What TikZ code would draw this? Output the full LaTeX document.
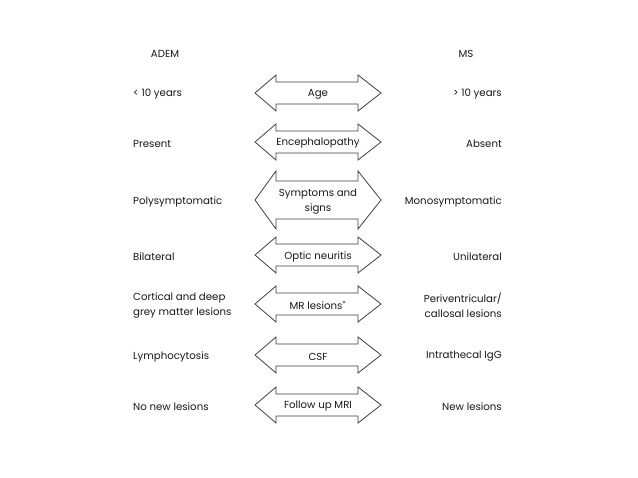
\documentclass[tikz,border=0pt]{standalone}
\usepackage{fontspec}
\setmainfont{Poppins}
\begin{document}
\begin{tikzpicture}[x=1pt,y=-1pt,
  lbl/.style={font=\fontsize{10.2}{15}\selectfont, inner sep=0pt, text=black!90, yshift=-1.5pt},
  lft/.style={lbl, anchor=west, align=left},
  rgt/.style={lbl, anchor=east, align=right},
  mid/.style={lbl, align=center},
  arr/.style={draw=black!75, line width=0.8pt, line join=miter}]
\useasboundingbox (0,0) rectangle (638,478);
\fill[white] (0,0) rectangle (638,478);
\newcommand{\dblarr}[3]{%
  \draw[arr] (255,#1) -- (276,#1-#2) -- (276,#1-#3) -- (358,#1-#3) -- (358,#1-#2)
    -- (381,#1) -- (358,#1+#2) -- (358,#1+#3) -- (276,#1+#3) -- (276,#1+#2) -- cycle;}
\node[lbl] (adem) at (165,52) {ADEM};
\node[lbl] (ms) at (466,52) {MS};
% rows
\dblarr{93}{18}{11}
\node[mid] (age) at (318,93) {Age};
\node[lft] (a1) at (133,93) {< 10 years};
\node[rgt] (b1) at (502,93) {> 10 years};
\dblarr{142}{18}{11}
\node[mid] (enc) at (318,142) {Encephalopathy};
\node[lft] (a2) at (133,142) {Present};
\node[rgt] (b2) at (502,142) {Absent};
\dblarr{200}{29}{19}
\node[mid] (sym) at (318,200) {Symptoms and\\signs};
\node[lft] (a3) at (133,200) {Polysymptomatic};
\node[rgt] (b3) at (502,200) {Monosymptomatic};
\dblarr{255}{18}{11}
\node[mid] (opt) at (318,255) {Optic neuritis};
\node[lft] (a4) at (133,255) {Bilateral};
\node[rgt] (b4) at (502,255) {Unilateral};
\dblarr{304}{18}{11}
\node[mid] (mr) at (318,304) {MR lesions\textsuperscript{*}};
\node[lft] (a5) at (133,304) {Cortical and deep\\grey matter lesions};
\node[rgt] (b5) at (502,304) {Periventricular/\\callosal lesions};
\dblarr{355}{18}{11}
\node[mid] (csf) at (318,355) {CSF};
\node[lft] (a6) at (133,355) {Lymphocytosis};
\node[rgt] (b6) at (502,355) {Intrathecal IgG};
\dblarr{405}{18}{11}
\node[mid] (fu) at (318,405) {Follow up MRI};
\node[lft] (a7) at (133,405) {No new lesions};
\node[rgt] (b7) at (502,405) {New lesions};
\end{tikzpicture}
\end{document}
